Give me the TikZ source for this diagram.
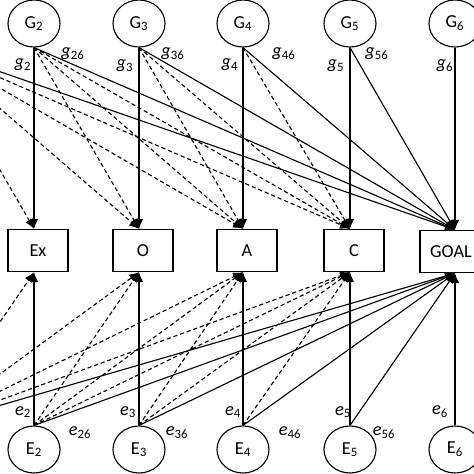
\documentclass[tikz,border=0pt]{standalone}
\usepackage{fontspec}
\setmainfont{Carlito}
\usetikzlibrary{positioning, arrows.meta, shapes.geometric}

\tikzset{
  latent/.style={draw, ellipse, line width=0.8pt, inner sep=0pt,
    minimum width=1.3cm, minimum height=1.175cm},
  trait/.style={draw, rectangle, line width=1pt,
    minimum width=1.5cm, minimum height=1.05cm},
  load/.style={line width=0.8pt, -{Latex[length=7pt,width=6pt]}},
  crossload/.style={load, dash pattern=on 3pt off 2pt},
  coef/.style={inner sep=0pt}
}

\begin{document}
\begin{tikzpicture}[x=0.025cm, y=-0.025cm, font=\fontsize{13}{15}\selectfont]
    \useasboundingbox (0,0) rectangle (474,474);

    % Columns: latent G on top, trait box in the middle, latent E below
    \foreach \i/\xpos/\tname/\tlabel in {2/34/ex/Ex, 3/139/o/O, 4/243/a/A, 5/350/c/C} {
      \node[latent] (g\i) at (\xpos, 23.5) {G\textsubscript{\i}};
      \node[latent] (e\i) at (\xpos, 449.5) {E\textsubscript{\i}};
      \node[trait] (\tname) at (\xpos+4, 250.5) {\tlabel};
    }
    \node[latent] (g6) at (455, 23.5) {G\textsubscript{6}};
    \node[latent] (e6) at (455, 449.5) {E\textsubscript{6}};
    \node[trait, minimum width=1.55cm] (goal) at (451, 251.5) {GOAL};

    % Start points (G1 and E1 lie outside the frame)
    \coordinate (gs1) at (-71, 47);
    \coordinate (es1) at (-71, 426);
    \foreach \i in {2,...,6} {
      \coordinate (gs\i) at (g\i.south);
      \coordinate (es\i) at (e\i.north);
    }

    % Arrow tips on the boxes
    \foreach \i/\tname in {2/ex, 3/o, 4/a, 5/c, 6/goal} {
      \coordinate (t\i) at (gs\i |- \tname.north);
      \coordinate (b\i) at (es\i |- \tname.south);
      \draw[load] (gs\i) -- (t\i);
      \draw[load] (es\i) -- (b\i);
    }

    % Paths to GOAL
    \foreach \i in {1,...,5} {
      \draw[load] (gs\i) -- (t6);
      \draw[load] (es\i) -- (b6);
    }

    % Cross paths to the traits on the right
    \foreach \i in {1,...,4} {
      \pgfmathtruncatemacro{\k}{\i+1}
      \foreach \j in {\k,...,5} {
        \draw[crossload] (gs\i) -- (t\j);
        \draw[crossload] (es\i) -- (b\j);
      }
    }

    % Coefficient labels
    \foreach \i/\gx/\gy/\hx/\ex/\fx in {2/23/65/73/23/80, 3/125/66/173/128/177,
        4/230/65/284/233/290, 5/336/66/377/343/384} {
      \node[coef] (lg\i) at (\gx, \gy) {\textit{g}\textsubscript{\i}};
      \node[coef] (lg\i6) at (\hx, 54) {\textit{g}\textsubscript{\i6}};
      \node[coef] (le\i) at (\ex, 412) {\textit{e}\textsubscript{\i}};
      \node[coef] (le\i6) at (\fx, 433) {\textit{e}\textsubscript{\i6}};
    }
    \node[coef] (lg6) at (445, 66) {\textit{g}\textsubscript{6}};
    \node[coef] (le6) at (440, 412) {\textit{e}\textsubscript{6}};
\end{tikzpicture}
\end{document}
